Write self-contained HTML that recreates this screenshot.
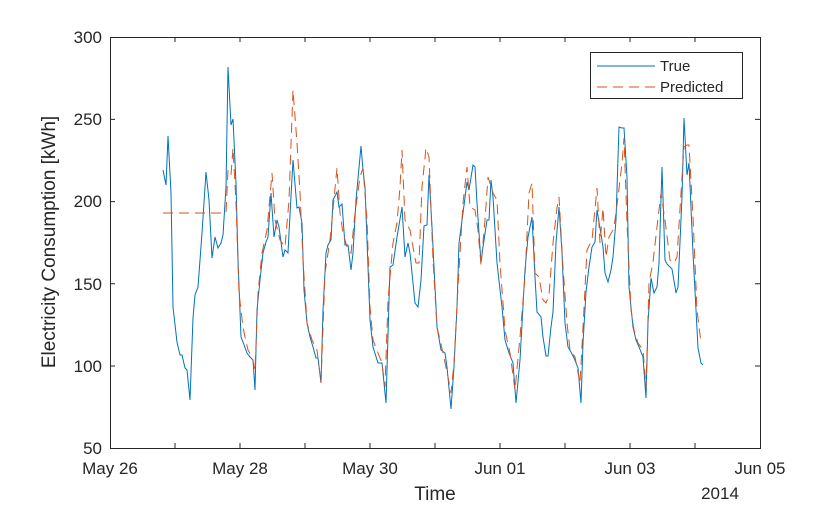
<!DOCTYPE html>
<html><head><meta charset="utf-8"><style>
html,body{margin:0;padding:0;background:#fff;}
svg{display:block;font-family:"Liberation Sans",Arial,sans-serif;}
</style></head><body>
<svg width="840" height="506" viewBox="0 0 840 506">
<rect width="840" height="506" fill="#fff"/>
<g stroke="#262626" stroke-width="1" fill="none">
<rect x="110.5" y="37.5" width="650" height="411"/>
<path d="M110 201.6h5M110 283.8h5M110 366h5M110 119.4h5M760 201.6h-5M760 283.8h-5M760 366h-5M760 119.4h-5
M175 448v-5M240 448v-5M305 448v-5M370 448v-5M435 448v-5M500 448v-5M565 448v-5M630 448v-5M695 448v-5
M175 37v5M240 37v5M305 37v5M370 37v5M435 37v5M500 37v5M565 37v5M630 37v5M695 37v5"/>
</g>
<g font-size="17" fill="#262626" text-anchor="end">
<text x="102" y="43">300</text><text x="102" y="125">250</text><text x="102" y="207">200</text>
<text x="102" y="290">150</text><text x="102" y="372">100</text><text x="102" y="454">50</text>
</g>
<g font-size="17" fill="#262626" text-anchor="middle">
<text x="110" y="474">May 26</text><text x="240" y="474">May 28</text><text x="370" y="474">May 30</text>
<text x="500" y="474">Jun 01</text><text x="630" y="474">Jun 03</text><text x="760" y="474">Jun 05</text>
<text x="720" y="499">2014</text>
<text x="435" y="500" font-size="19">Time</text>
<text transform="translate(55,242) rotate(-90)" font-size="19">Electricity Consumption [kWh]</text>
</g>
<polyline fill="none" stroke="#0072BD" stroke-width="1" points="163,170 166,185 168,136 171,193 173,307 177,342 180,355 182,355 185,368 187,370 190,400 193,318 195,295 198,287 202,233 206,172 209,200 212,258 215,237 218,248 221,243 223,235 226,187 228,67 231,125 233,119 236,183 238,260 241,337 243,342 247,353 250,357 253,360 255,390 257,310 260,280 263,253 266,242 268,237 271,193 274,237 277,220 279,227 283,257 285,250 288,253 289,233 293,160 297,208 299,207 302,223 304,290 307,323 310,337 313,347 316,358 318,358 321,383 323,310 326,253 328,245 331,240 333,200 337,192 339,207 342,204 345,245 348,245 351,270 353,253 356,200 361,146 363,170 365,187 370,320 373,347 378,363 382,363 386,403 390,267 393,265 397,237 402,207 405,257 408,243 410,253 415,303 418,307 421,280 424,226 427,225 429,175 432,227 437,327 441,350 445,353 447,367 451,409 454,367 457,307 459,243 463,213 467,182 469,190 473,165 475,167 477,203 481,263 483,247 487,220 489,220 491,180 493,197 497,263 502,307 505,340 509,353 513,363 516,403 520,360 525,270 528,237 532,217 535,277 537,312 541,317 543,337 546,356 548,356 551,327 553,312 556,243 559,207 562,253 565,323 568,347 571,352 574,358 578,368 581,403 583,343 586,292 589,267 592,247 595,242 597,210 600,228 603,247 605,273 608,282 611,270 613,257 616,220 619,127 622,128 624,128 627,177 629,287 633,327 636,340 639,347 643,357 646,398 648,323 651,278 654,293 657,287 659,263 662,167 665,260 667,264 672,269 676,293 678,287 682,197 684,118 687,175 689,163 693,253 696,310 698,348 701,363 703,365"/>
<polyline fill="none" stroke="#D95319" stroke-width="1" stroke-dasharray="10,6" points="163,213 226,213 228,170 231,175 233,148 236,203 239,293 243,327 245,337 248,350 252,357 255,370 258,293 262,253 267,230 272,173 275,220 280,240 285,247 289,200 293,90 297,143 300,193 303,260 307,323 312,340 317,350 321,383 325,273 330,240 337,168 340,213 343,233 347,247 351,253 355,213 360,177 363,168 367,220 370,307 373,340 378,353 382,363 385,387 388,300 393,243 397,223 400,187 402,150 405,220 410,230 413,247 416,263 419,263 422,187 426,148 429,157 433,260 437,327 443,353 448,377 451,393 454,363 458,287 463,203 467,167 470,207 475,210 478,230 481,265 485,220 488,177 493,193 497,200 500,263 505,330 510,353 515,390 520,337 525,277 529,193 532,183 535,273 539,277 543,300 546,303 549,295 553,243 557,208 559,197 563,267 567,323 570,350 575,357 580,383 583,327 587,250 592,240 597,188 600,243 603,208 606,257 609,237 613,230 615,220 618,197 622,163 624,138 627,223 631,310 634,330 638,343 643,350 646,387 649,283 653,262 657,227 661,193 665,220 670,260 674,263 677,257 681,193 684,147 687,145 689,145 693,217 697,310 701,343"/>
<rect x="590.5" y="52.5" width="152" height="46" fill="#fff" stroke="#262626" stroke-width="1"/>
<line x1="597" y1="66" x2="655" y2="66" stroke="#0072BD" stroke-width="1"/>
<line x1="597" y1="87" x2="655" y2="87" stroke="#D95319" stroke-width="1" stroke-dasharray="10,6"/>
<text x="660" y="71" font-size="15" fill="#262626">True</text>
<text x="660" y="92" font-size="15" fill="#262626">Predicted</text>
</svg>
</body></html>
